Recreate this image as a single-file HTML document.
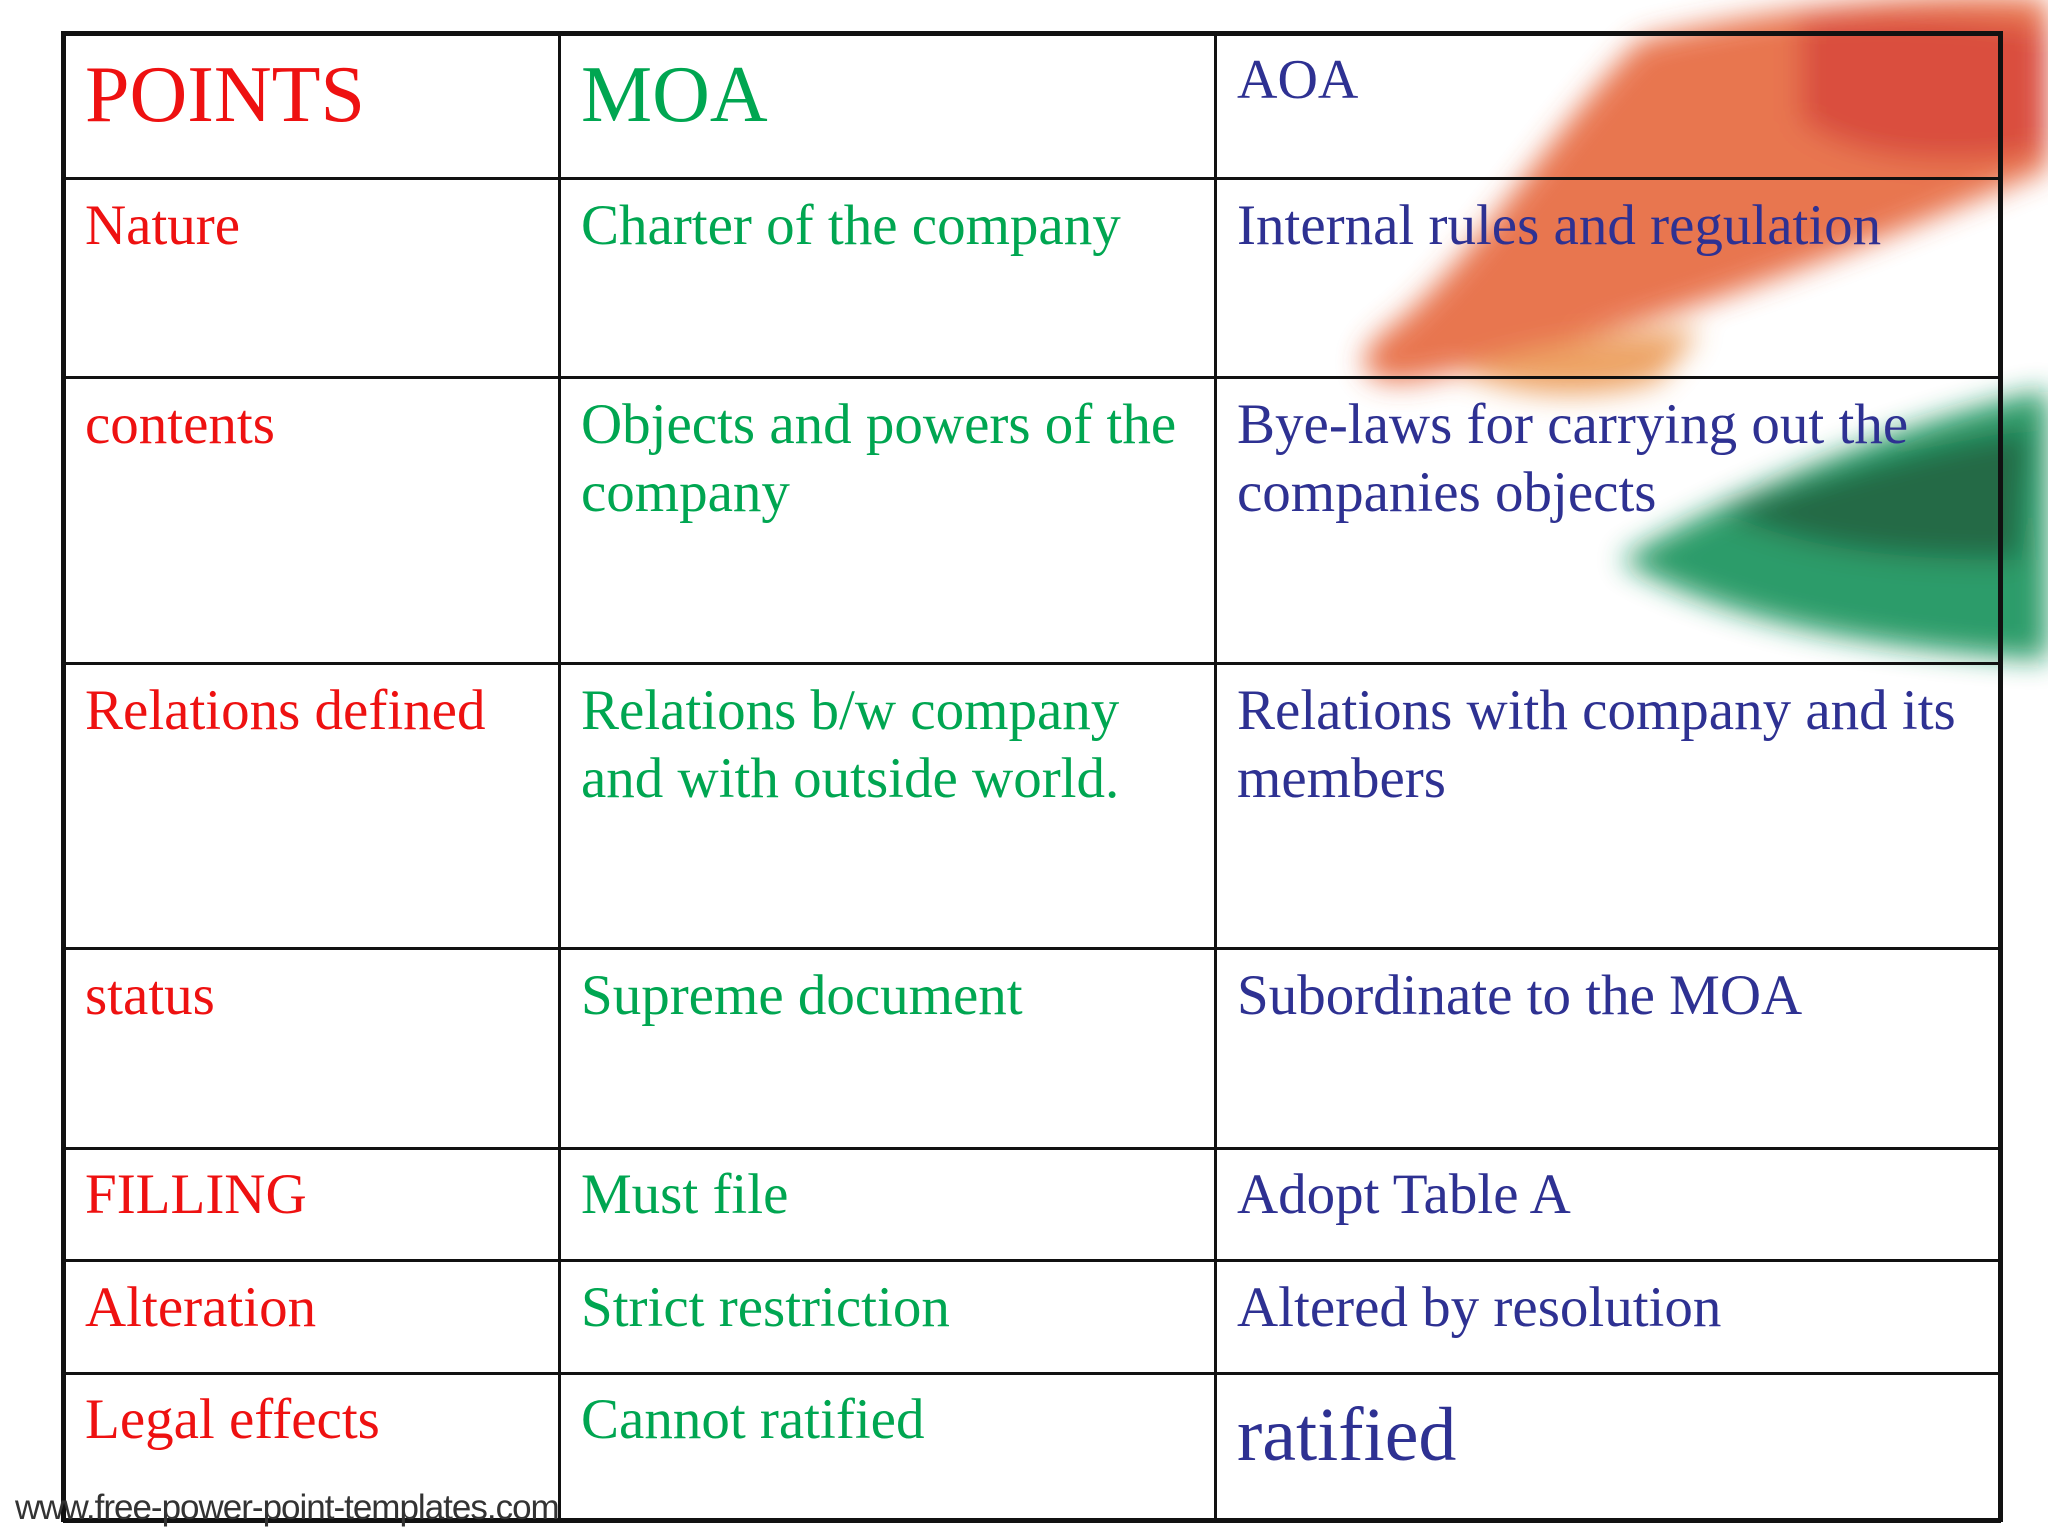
<!DOCTYPE html>
<html><head><meta charset="utf-8"><style>
html,body{margin:0;padding:0;background:#fff;}
#page{position:relative;width:2048px;height:1536px;overflow:hidden;background:#fff;font-family:"Liberation Serif",serif;}
.t{position:absolute;white-space:nowrap;font-size:57px;line-height:68px;}
.r{color:#ee1111}.g{color:#00a651}.b{color:#2e3192}
.hl{position:absolute;background:#111;height:3px;left:63px;width:1938px}
.vl{position:absolute;background:#111;width:3px;top:31px;height:1491px}
</style></head><body>
<div id="page">
<svg width="2048" height="700" style="position:absolute;left:0;top:0;opacity:0.9">
<defs><filter id="bl"><feGaussianBlur stdDeviation="14"/></filter></defs>
<g filter="url(#bl)">
<path d="M1640 40 C1800 0 1980 -10 2048 0 L2048 170 C1900 230 1700 320 1420 380 C1360 390 1340 360 1400 320 C1480 250 1560 120 1640 40Z" fill="#e6683c"/>
<path d="M1800 20 C1900 10 2000 20 2048 30 L2048 150 C1950 170 1850 160 1800 120Z" fill="#d63a2a"/>
<path d="M1460 370 C1560 340 1640 330 1700 330 L1660 380 C1600 400 1520 400 1460 370Z" fill="#eb9a55"/>
<path d="M1620 560 C1720 500 1900 420 2048 390 L2048 660 C1900 650 1740 630 1620 560Z" fill="#17925a"/>
<path d="M1720 510 C1850 470 1950 440 2030 430 L2020 560 C1900 560 1800 550 1720 510Z" fill="#0d5a33"/>
</g>
</svg>
<div class="hl" style="top:31px;height:5px"></div>
<div class="hl" style="top:177px"></div>
<div class="hl" style="top:376px"></div>
<div class="hl" style="top:662px"></div>
<div class="hl" style="top:947px"></div>
<div class="hl" style="top:1147px"></div>
<div class="hl" style="top:1259px"></div>
<div class="hl" style="top:1372px"></div>
<div class="hl" style="top:1518px;height:5px"></div>
<div class="vl" style="left:61px;width:5px"></div>
<div class="vl" style="left:558px"></div>
<div class="vl" style="left:1214px"></div>
<div class="vl" style="left:1998px;width:5px"></div>

<div class="t r" style="left:85px;top:50px;font-size:80px;line-height:90px">POINTS</div>
<div class="t g" style="left:581px;top:50px;font-size:80px;line-height:90px">MOA</div>
<div class="t b" style="left:1237px;top:46px;font-size:56px">AOA</div>

<div class="t r" style="left:85px;top:192px">Nature</div>
<div class="t g" style="left:581px;top:192px">Charter of the company</div>
<div class="t b" style="left:1237px;top:192px">Internal rules and regulation</div>

<div class="t r" style="left:85px;top:391px">contents</div>
<div class="t g" style="left:581px;top:391px">Objects and powers of the<br>company</div>
<div class="t b" style="left:1237px;top:391px">Bye-laws for carrying out the<br>companies objects</div>

<div class="t r" style="left:85px;top:677px">Relations defined</div>
<div class="t g" style="left:581px;top:677px">Relations b/w company<br>and with outside world.</div>
<div class="t b" style="left:1237px;top:677px">Relations with company and its<br>members</div>

<div class="t r" style="left:85px;top:962px">status</div>
<div class="t g" style="left:581px;top:962px">Supreme document</div>
<div class="t b" style="left:1237px;top:962px">Subordinate to the MOA</div>

<div class="t r" style="left:85px;top:1161px">FILLING</div>
<div class="t g" style="left:581px;top:1161px">Must file</div>
<div class="t b" style="left:1237px;top:1161px">Adopt Table A</div>

<div class="t r" style="left:85px;top:1274px">Alteration</div>
<div class="t g" style="left:581px;top:1274px">Strict restriction</div>
<div class="t b" style="left:1237px;top:1274px">Altered by resolution</div>

<div class="t r" style="left:85px;top:1386px">Legal effects</div>
<div class="t g" style="left:581px;top:1386px">Cannot ratified</div>
<div class="t b" style="left:1237px;top:1390px;font-size:76px;line-height:90px">ratified</div>

<div class="t" style="left:15px;top:1488px;font-family:'Liberation Sans',sans-serif;font-size:35px;line-height:40px;color:#333;letter-spacing:-1px">www.free-power-point-templates.com</div>
</div>
</body></html>
